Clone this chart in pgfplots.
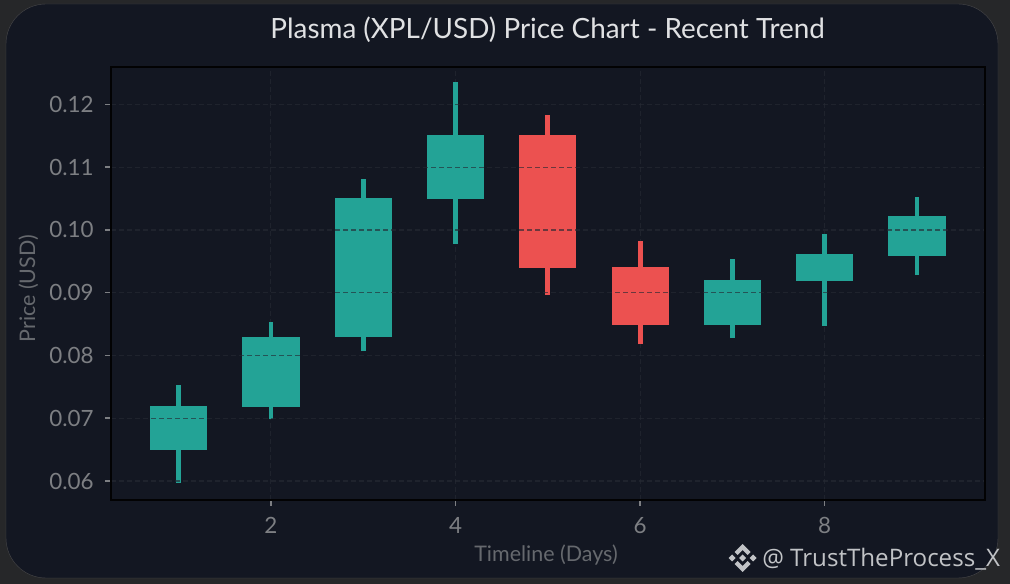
\documentclass[border=0pt]{standalone}
\usepackage{pgfplots}
\pgfplotsset{compat=1.18}
\usepackage{fontspec}
\setmainfont{Lato}
\newfontfamily\wm{Open Sans}
\definecolor{outer}{HTML}{262729}
\definecolor{panel}{HTML}{131722}
\definecolor{up}{HTML}{23A396}
\definecolor{down}{HTML}{EC5150}
\definecolor{gridc}{HTML}{262A34}
\definecolor{tickc}{HTML}{7D7F83}
\definecolor{labc}{HTML}{66696E}
\definecolor{titlec}{HTML}{E0E1E3}
\begin{document}
\begin{tikzpicture}[x=0.75pt,y=0.75pt]
\fill[outer] (0,0) rectangle (1010,584);
\fill[panel,draw=outer!85!white,line width=0.3pt,rounded corners=30pt] (6,6) rectangle (998,580);
\begin{axis}[
  at={(111*0.75pt,84*0.75pt)},anchor=south west,
  scale only axis,width=874*0.75pt,height=433*0.75pt,
  xmin=0.267,xmax=9.737,ymin=0.05697,ymax=0.12597,
  xtick={2,4,6,8},ytick={0.06,0.07,0.08,0.09,0.10,0.11,0.12},
  xtick pos=bottom,ytick pos=left,tick align=outside,
  major tick length=4.5pt,
  tick style={tickc,line width=1.1pt},
  axis on top,
  axis line style={black!90!panel,line width=1pt},
  ymajorgrids=true,
  y grid style={gridc,opacity=0.65,dash pattern=on 3.5pt off 2.5pt,line width=0.8pt},
  yticklabel style={/pgf/number format/fixed,/pgf/number format/fixed zerofill,/pgf/number format/precision=2,/pgf/number format/assume math mode=true,text=tickc,font=\fontsize{16.8}{18}\selectfont,xshift=-5pt},
  xticklabel style={/pgf/number format/assume math mode=true,text=tickc,font=\fontsize{16.8}{18}\selectfont,yshift=-5pt},
  scaled y ticks=false,
  title={Plasma (XPL/USD) Price Chart - Recent Trend},
  title style={at={(axis description cs:0.4995,1)},anchor=center,yshift=21.8pt,text=titlec,font=\fontsize{20.9}{24}\selectfont},
  xlabel={Timeline (Days)},
  xlabel style={at={(axis description cs:0.4977,0)},anchor=center,yshift=-41pt,text=labc,font=\fontsize{16.1}{18}\selectfont},
  ylabel={Price (USD)},
  ylabel style={at={(axis description cs:0,0.488)},anchor=center,rotate=0,yshift=62pt,text=labc,font=\fontsize{16.1}{18}\selectfont},
]
% vertical grid, behind the candles
\addplot[gridc,dash pattern=on 3.5pt off 2.5pt,line width=0.8pt,opacity=0.65,forget plot] coordinates {(2,0.05697)(2,0.12597)};
\addplot[gridc,dash pattern=on 3.5pt off 2.5pt,line width=0.8pt,opacity=0.65,forget plot] coordinates {(4,0.05697)(4,0.12597)};
\addplot[gridc,dash pattern=on 3.5pt off 2.5pt,line width=0.8pt,opacity=0.65,forget plot] coordinates {(6,0.05697)(6,0.12597)};
\addplot[gridc,dash pattern=on 3.5pt off 2.5pt,line width=0.8pt,opacity=0.65,forget plot] coordinates {(8,0.05697)(8,0.12597)};
% wicks
\addplot[up,line width=3.6pt,forget plot] coordinates {(1,0.0597)(1,0.0753)};
\addplot[up,line width=3.6pt,forget plot] coordinates {(2,0.0698)(2,0.0853)};
\addplot[up,line width=3.6pt,forget plot] coordinates {(3,0.0807)(3,0.1082)};
\addplot[up,line width=3.6pt,forget plot] coordinates {(4,0.0978)(4,0.1235)};
\addplot[down,line width=3.6pt,forget plot] coordinates {(5,0.0897)(5,0.1183)};
\addplot[down,line width=3.6pt,forget plot] coordinates {(6,0.0818)(6,0.0983)};
\addplot[up,line width=3.6pt,forget plot] coordinates {(7,0.0828)(7,0.0953)};
\addplot[up,line width=3.6pt,forget plot] coordinates {(8,0.0847)(8,0.0993)};
\addplot[up,line width=3.6pt,forget plot] coordinates {(9,0.0928)(9,0.1053)};
% bodies
\addplot[fill=up,draw=none,forget plot] coordinates {(0.69,0.0649)(1.31,0.0649)(1.31,0.0720)(0.69,0.0720)} -- cycle;
\addplot[fill=up,draw=none,forget plot] coordinates {(1.69,0.0718)(2.31,0.0718)(2.31,0.0830)(1.69,0.0830)} -- cycle;
\addplot[fill=up,draw=none,forget plot] coordinates {(2.69,0.0829)(3.31,0.0829)(3.31,0.1051)(2.69,0.1051)} -- cycle;
\addplot[fill=up,draw=none,forget plot] coordinates {(3.69,0.1049)(4.31,0.1049)(4.31,0.1152)(3.69,0.1152)} -- cycle;
\addplot[fill=down,draw=none,forget plot] coordinates {(4.69,0.0939)(5.31,0.0939)(5.31,0.1152)(4.69,0.1152)} -- cycle;
\addplot[fill=down,draw=none,forget plot] coordinates {(5.69,0.0849)(6.31,0.0849)(6.31,0.0941)(5.69,0.0941)} -- cycle;
\addplot[fill=up,draw=none,forget plot] coordinates {(6.69,0.0849)(7.31,0.0849)(7.31,0.0921)(6.69,0.0921)} -- cycle;
\addplot[fill=up,draw=none,forget plot] coordinates {(7.69,0.0919)(8.31,0.0919)(8.31,0.0961)(7.69,0.0961)} -- cycle;
\addplot[fill=up,draw=none,forget plot] coordinates {(8.69,0.0959)(9.31,0.0959)(9.31,0.1022)(8.69,0.1022)} -- cycle;
\end{axis}
% watermark
\node[anchor=base west,inner sep=0pt,text=titlec!85!panel,font=\wm\fontsize{18.1}{20}\selectfont] at (762,17.5) {@ TrustTheProcess\_X};
\begin{scope}[shift={(742.7,26)},titlec!85!panel]
\fill (0,14) -- (8,6) -- (5,3) -- (0,8) -- (-5,3) -- (-8,6) -- cycle;
\fill (0,-14) -- (8,-6) -- (5,-3) -- (0,-8) -- (-5,-3) -- (-8,-6) -- cycle;
\fill (0,3.5) -- (3.5,0) -- (0,-3.5) -- (-3.5,0) -- cycle;
\fill (-14,0) -- (-10.5,3.5) -- (-7,0) -- (-10.5,-3.5) -- cycle;
\fill (14,0) -- (10.5,3.5) -- (7,0) -- (10.5,-3.5) -- cycle;
\end{scope}
\end{tikzpicture}
\end{document}
